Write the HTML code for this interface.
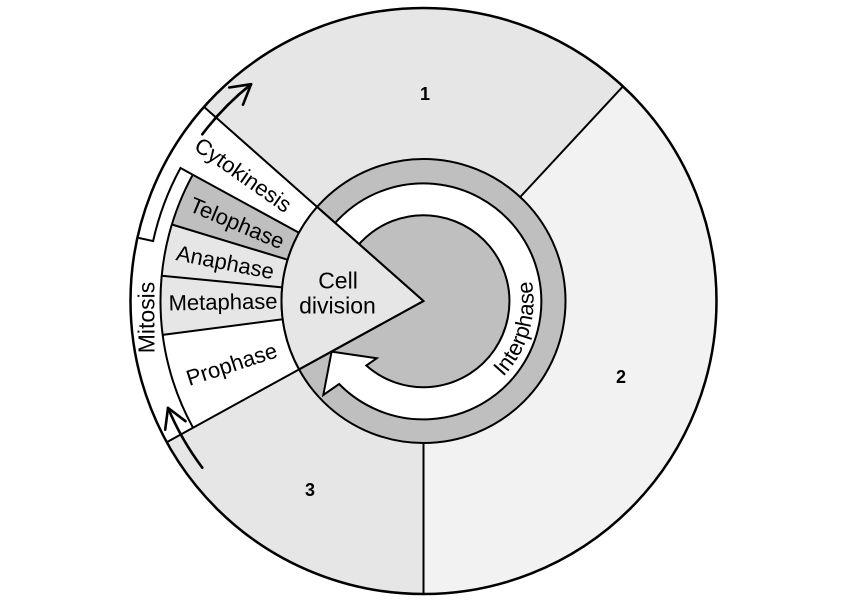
<!DOCTYPE html>
<html>
<head>
<meta charset="utf-8">
<style>
  html, body { margin:0; padding:0; background:#ffffff; }
  svg { display:block; }
  text { font-family: "Liberation Sans", Arial, sans-serif; fill:#000; }
</style>
</head>
<body>
<svg width="848" height="604" viewBox="0 0 848 604" xmlns="http://www.w3.org/2000/svg">
  <!-- background regions -->
  <circle cx="423.5" cy="301" r="293" fill="#e6e6e6"/>
  <path d="M423.5 301 L622.9 86.4 A293 293 0 0 1 423.5 594 Z" fill="#f2f2f2"/>
  <path d="M423.5 301 L166.7 442.2 A293 293 0 0 1 204.0 106.9 Z" fill="#ffffff"/>

  <!-- phase cell fills -->
  <path d="M287.6 259.7 L171.9 224.5 A263 263 0 0 1 192.8 174.7 L299.0 232.8 A142 142 0 0 0 287.6 259.7 Z" fill="#bfbfbf"/>
  <path d="M282.7 319.3 L162.7 334.9 A263 263 0 0 1 171.9 224.5 L287.6 259.7 A142 142 0 0 0 282.7 319.3 Z" fill="#e6e6e6"/>

  <!-- dark ring / disc -->
  <circle cx="423.5" cy="301" r="142" fill="#bfbfbf" stroke="#000" stroke-width="2"/>

  <!-- white interphase arrow band -->
  <path d="M312.6 260.6 A118 118 0 1 1 339.1 384.0 L323.3 395 L331.6 351.6 L376.7 358.3 L366.3 365.5 A86 86 0 1 0 342.7 271.6 Z"
        fill="#ffffff" stroke="#000" stroke-width="2" stroke-linejoin="miter"/>

  <!-- cell division wedge -->
  <path d="M423.5 301 L317.1 206.9 A142 142 0 0 0 299.1 369.4 Z" fill="#e6e6e6" stroke="#000" stroke-width="2" stroke-linejoin="miter"/>

  <!-- lines -->
  <g stroke="#000" stroke-width="2" fill="none">
    <line x1="423.5" y1="301" x2="204.0" y2="106.9"/>
    <line x1="423.5" y1="301" x2="166.7" y2="442.2"/>
    <line x1="520.2" y1="197.0" x2="622.9" y2="86.4"/>
    <line x1="423.5" y1="443" x2="423.5" y2="594"/>
    <line x1="299.0" y1="232.8" x2="192.8" y2="174.7"/>
    <line x1="287.6" y1="259.7" x2="171.9" y2="224.5"/>
    <line x1="282.2" y1="287.4" x2="161.7" y2="275.8"/>
    <line x1="282.7" y1="319.3" x2="162.7" y2="334.9"/>
    <path d="M193.0 427.7 A263 263 0 0 1 192.8 174.7"/>
    <path d="M192.8 174.7 L180.5 168.0 A277 277 0 0 0 153.1 241.1 L137.4 237.6"/>
  </g>
  <circle cx="423.5" cy="301" r="293" fill="none" stroke="#000" stroke-width="2.5"/>

  <!-- curved arrows -->
  <g stroke="#000" stroke-width="2.6" fill="none" stroke-linecap="round" stroke-linejoin="round">
    <path d="M202.3 134.3 A277 277 0 0 1 251.1 84.2"/>
    <path d="M229.3 87.5 L251.1 84.2 L243.0 104.7"/>
    <path d="M202.3 467.7 A277 277 0 0 1 168.0 407.9"/>
    <path d="M185.5 421.2 L168.0 407.9 L165.2 429.7"/>
  </g>

  <!-- labels -->
  <text x="338" y="288.3" font-size="23" text-anchor="middle">Cell</text>
  <text x="337.5" y="313.3" font-size="23" text-anchor="middle">division</text>

  <text transform="translate(154.5,317.5) rotate(-90)" font-size="23" text-anchor="middle">Mitosis</text>

  <text transform="translate(243.5,174.5) rotate(35.1)" font-size="22" text-anchor="middle" y="8">Cytokinesis</text>
  <text transform="translate(237.3,222.7) rotate(22.8)" font-size="22" text-anchor="middle" y="8">Telophase</text>
  <text transform="translate(225.3,261.8) rotate(11.2)" font-size="22" text-anchor="middle" y="8">Anaphase</text>
  <text transform="translate(223,301.5) rotate(-1)" font-size="22" text-anchor="middle" y="8">Metaphase</text>
  <text transform="translate(231.5,363.8) rotate(-18.1)" font-size="22" text-anchor="middle" y="8">Prophase</text>

  <defs>
    <path id="interArc" d="M449.2 408.0 A110 110 0 0 0 503.3 225.3"/>
  </defs>
  <text font-size="22"><textPath href="#interArc" startOffset="50%" text-anchor="middle">Interphase</textPath></text>

  <text x="425" y="100" font-size="18" font-weight="bold" text-anchor="middle">1</text>
  <text x="621" y="383" font-size="18" font-weight="bold" text-anchor="middle">2</text>
  <text x="310" y="496" font-size="18" font-weight="bold" text-anchor="middle">3</text>
</svg>
</body>
</html>
